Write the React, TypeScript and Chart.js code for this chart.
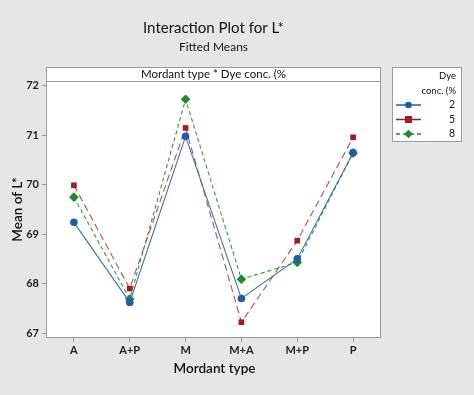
import React, { useEffect, useRef } from 'react';
import { Chart, registerables } from 'chart.js';
Chart.register(...registerables);

const categories = ['A', 'A+P', 'M', 'M+A', 'M+P', 'P'];
const seriesNames = ['2', '5', '8'];
const dye2 = [69.24, 67.62, 70.98, 67.7, 68.5, 70.65];
const dye5 = [69.99, 67.9, 71.15, 67.22, 68.87, 70.96];
const dye8 = [69.75, 67.69, 71.73, 68.09, 68.43, 70.64];
const yTicks = [67, 68, 69, 70, 71, 72];

const FONT = 'Lato, "Open Sans", sans-serif';
const BG = '#e6e6e6';
const FRAME = '#9a9a9a';

const colors = ['#1f5ca6', '#a11c1f', '#1d8a2c'];
const lineColors = ['#3a74bd', '#c44a4a', '#2a9a3a'];
const dashes: number[][] = [[], [7, 4], [4, 3]];
const legendDashes: number[][] = [[], [], [4, 3]];
const shapes = ['circle', 'rect', 'rectRot'];
const radii = [3.8, 4, 4.8];

function drawMarker(ctx: CanvasRenderingContext2D, shape: string, x: number, y: number, r: number, color: string) {
  ctx.save();
  ctx.setLineDash([]);
  ctx.fillStyle = color;
  ctx.beginPath();
  if (shape === 'circle') {
    ctx.arc(x, y, r, 0, Math.PI * 2);
  } else if (shape === 'rect') {
    ctx.rect(x - r, y - r, 2 * r, 2 * r);
  } else {
    ctx.moveTo(x, y - r);
    ctx.lineTo(x + r, y);
    ctx.lineTo(x, y + r);
    ctx.lineTo(x - r, y);
    ctx.closePath();
  }
  ctx.fill();
  ctx.restore();
}

const framePlugin = {
  id: 'minitabFrame',
  beforeDraw(chart: any) {
    const { ctx, chartArea } = chart;
    const { left, right, top, bottom } = chartArea;
    ctx.save();
    ctx.fillStyle = BG;
    ctx.fillRect(0, 0, chart.width, chart.height);
    const headerTop = top - 14;
    ctx.fillStyle = '#ffffff';
    ctx.fillRect(left, headerTop, right - left, bottom - headerTop);
    ctx.restore();
  },
  beforeDatasetsDraw(chart: any) {
    const { ctx, chartArea } = chart;
    const { left, right, top, bottom } = chartArea;
    const headerTop = top - 14;
    ctx.save();
    ctx.strokeStyle = FRAME;
    ctx.lineWidth = 1;
    ctx.strokeRect(left + 0.5, headerTop + 0.5, right - left - 1, bottom - headerTop - 1);
    ctx.beginPath();
    ctx.moveTo(left, top + 0.5);
    ctx.lineTo(right, top + 0.5);
    ctx.stroke();
    ctx.fillStyle = '#111';
    ctx.font = `11.5px ${FONT}`;
    ctx.textAlign = 'center';
    ctx.textBaseline = 'middle';
    ctx.fillText('Mordant type * Dye conc. (%', (left + right) / 2, headerTop + 7.5);
    ctx.restore();
  },
  afterDraw(chart: any) {
    const { ctx, chartArea } = chart;
    const { left, right, top, bottom } = chartArea;
    const cx = (left + right) / 2;
    ctx.save();
    ctx.fillStyle = '#111';
    ctx.textAlign = 'center';
    ctx.textBaseline = 'middle';
    ctx.font = `15px ${FONT}`;
    ctx.fillText('Interaction Plot for L*', cx, 28);
    ctx.font = `12px ${FONT}`;
    ctx.fillText('Fitted Means', cx, 47);
    ctx.font = `600 13.5px ${FONT}`;
    ctx.fillText('Mordant type', cx + 1, 369);
    ctx.save();
    ctx.translate(18, (top + bottom) / 2);
    ctx.rotate(-Math.PI / 2);
    ctx.fillText('Mean of L*', 0, 0);
    ctx.restore();

    // legend
    const lx = 392, ly = 67, lw = 70, lh = 75;
    ctx.fillStyle = '#ffffff';
    ctx.fillRect(lx, ly, lw, lh);
    ctx.strokeStyle = FRAME;
    ctx.lineWidth = 1;
    ctx.strokeRect(lx + 0.5, ly + 0.5, lw - 1, lh - 1);
    ctx.fillStyle = '#111';
    ctx.font = `9.5px ${FONT}`;
    ctx.textAlign = 'right';
    ctx.fillText('Dye', lx + lw - 6, ly + 9);
    ctx.fillText('conc. (%', lx + lw - 6, ly + 24);
    chart.data.datasets.forEach((ds: any, i: number) => {
      const y = ly + 38 + i * 14.5;
      ctx.save();
      ctx.strokeStyle = colors[i];
      ctx.lineWidth = 1.5;
      ctx.setLineDash(legendDashes[i]);
      ctx.beginPath();
      ctx.moveTo(lx + 4, y);
      ctx.lineTo(lx + 29, y);
      ctx.stroke();
      ctx.restore();
      drawMarker(ctx, shapes[i], lx + 16.5, y, radii[i] - 0.5, colors[i]);
      ctx.fillStyle = '#111';
      ctx.font = `10.5px ${FONT}`;
      ctx.textAlign = 'right';
      ctx.fillText(ds.label, lx + lw - 7, y);
    });
    ctx.restore();
  },
};

export default function App() {
  const ref = useRef<HTMLCanvasElement>(null);
  useEffect(() => {
    const all = [dye2, dye5, dye8];
    const chart = new Chart(ref.current as HTMLCanvasElement, {
      type: 'line',
      data: {
        labels: categories,
        datasets: all.map((d, i) => ({
          label: seriesNames[i],
          data: d,
          borderColor: lineColors[i],
          backgroundColor: colors[i],
          borderWidth: 1.1,
          borderDash: dashes[i],
          pointStyle: shapes[i] as any,
          pointRadius: radii[i],
          pointBackgroundColor: colors[i],
          pointBorderColor: colors[i],
          pointBorderWidth: 0,
          tension: 0,
          fill: false,
        })),
      },
      options: {
        responsive: false,
        animation: false,
        events: [],
        layout: { padding: { top: 81, right: 93, left: 0, bottom: 0 } },
        plugins: { legend: { display: false }, title: { display: false }, tooltip: { enabled: false } },
        scales: {
          x: {
            type: 'category',
            offset: true,
            border: { display: false },
            grid: { display: true, drawOnChartArea: false, drawTicks: true, tickLength: 4, offset: false, color: FRAME },
            ticks: { color: '#222', font: { family: FONT, size: 11, weight: 'bold' }, padding: 2, maxRotation: 0 },
            afterFit: (s: any) => { s.height = 57; },
          },
          y: {
            type: 'linear',
            min: 66.9,
            max: 72.1,
            border: { display: false },
            grid: { display: true, drawOnChartArea: false, drawTicks: true, tickLength: 4, color: FRAME },
            ticks: { color: '#222', font: { family: FONT, size: 11, weight: 'bold' }, padding: 3 },
            afterBuildTicks: (s: any) => { s.ticks = yTicks.map((v) => ({ value: v })); },
            afterFit: (s: any) => { s.width = 46; },
          },
        },
      },
      plugins: [framePlugin],
    });
    return () => chart.destroy();
  }, []);
  return (
    <div style={{ position: 'fixed', left: 0, top: 0, width: 474, height: 395 }}>
      <canvas ref={ref} width={474} height={395} style={{ display: 'block', width: 474, height: 395 }} />
    </div>
  );
}
